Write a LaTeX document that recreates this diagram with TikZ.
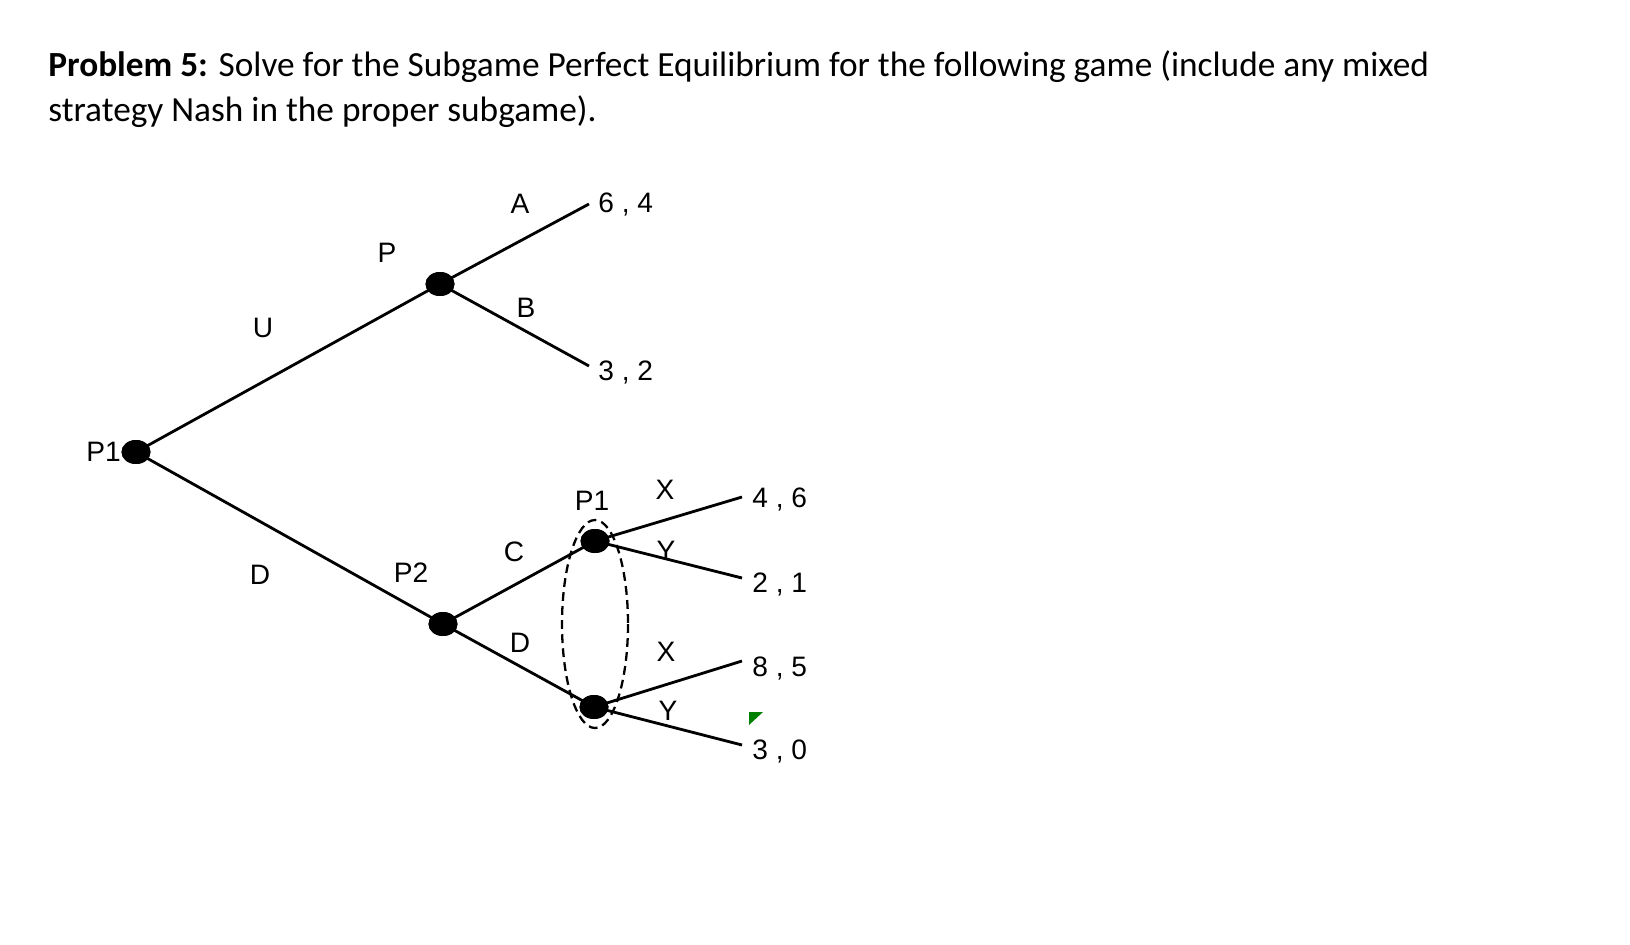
\documentclass[tikz,border=0pt]{standalone}
\usepackage{fontspec}
\setmainfont{Carlito}
\newfontfamily\arialf{Liberation Sans}
\usetikzlibrary{shapes.geometric}
\begin{document}
\begin{tikzpicture}[x=0.02cm,y=-0.02cm,
  dot/.style={fill=black,ellipse,minimum width=0.58cm,minimum height=0.48cm,inner sep=0},
  edge/.style={line width=1.6pt},
  lbl/.style={font=\arialf\fontsize{16}{18}\selectfont,inner sep=0}]
\useasboundingbox (0,0) rectangle (1630,944);
\node[anchor=base west,inner sep=0,font=\fontsize{20.1}{24}\selectfont] (t1) at (48,76) {\textbf{Problem 5:} Solve for the Subgame Perfect Equilibrium for the following game (include any mixed};
\node[anchor=base west,inner sep=0,font=\fontsize{20.1}{24}\selectfont] (t2) at (48,121) {strategy Nash in the proper subgame).};
\node[dot] (r) at (136,452) {};
\node[dot] (u) at (440,284) {};
\node[dot] (p2) at (443,624) {};
\node[dot] (i1) at (595,541) {};
\node[dot] (i2) at (594,707) {};
\coordinate (e64) at (589,204);
\coordinate (e32) at (589,366);
\coordinate (e46) at (742,497);
\coordinate (e21) at (742,578);
\coordinate (e85) at (742,661);
\coordinate (e30) at (742,745);
\draw[edge] (r.center)--(u.center) (u.center)--(e64) (u.center)--(e32)
  (r.center)--(p2.center) (p2.center)--(i1.center) (p2.center)--(i2.center)
  (i1.center)--(e46) (i1.center)--(e21) (i2.center)--(e85) (i2.center)--(e30);
\node[dot] at (r) {};\node[dot] at (u) {};\node[dot] at (p2) {};\node[dot] at (i1) {};\node[dot] at (i2) {};
\draw[line width=1.3pt,dash pattern=on 5pt off 3pt] (595,624) ellipse [x radius=33,y radius=104];
\node[lbl,anchor=east] (l1) at (121,452) {P1};
\node[lbl] at (520,204) {A};
\node[lbl] at (526,308) {B};
\node[lbl] at (387,253) {P};
\node[lbl] at (263,328) {U};
\node[lbl] at (260,575) {D};
\node[lbl] at (411,573) {P2};
\node[lbl] at (592,501) {P1};
\node[lbl] at (514,552) {C};
\node[lbl] at (520,643) {D};
\node[lbl] at (665,490) {X};
\node[lbl] at (666,551) {Y};
\node[lbl] at (666,652) {X};
\node[lbl] at (668,711) {Y};
\node[lbl,anchor=west] at (598,204) {6 , 4};
\node[lbl,anchor=west] at (598,372) {3 , 2};
\node[lbl,anchor=west] at (752,499) {4 , 6};
\node[lbl,anchor=west] at (752,584) {2 , 1};
\node[lbl,anchor=west] at (752,668) {8 , 5};
\node[lbl,anchor=west] at (752,751) {3 , 0};
\fill[green!50!black] (749,712)--(763,712)--(749,725)--cycle;
\end{tikzpicture}
\end{document}
